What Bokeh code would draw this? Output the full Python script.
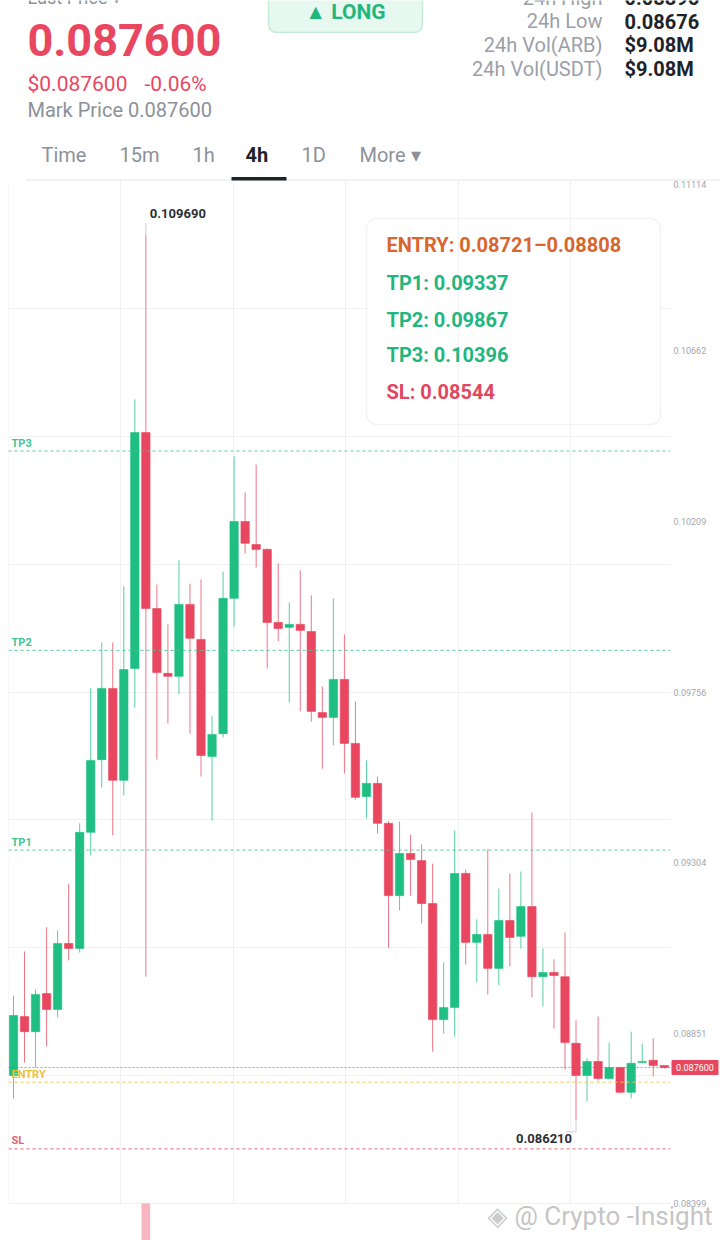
import numpy as np
from bokeh.plotting import figure
from bokeh.models import (Range1d, FixedTicker, NumeralTickFormatter, Span,
                          BoxAnnotation, ColumnDataSource)
from bokeh.embed import file_html
from bokeh.resources import INLINE
from bokeh.core.properties import value

# ---------------- data ----------------
opens = [0.08739, 0.08895, 0.08855, 0.08956, 0.08914, 0.09089, 0.09076, 0.09384, 0.09577, 0.09766,
         0.09522, 0.09819, 0.10445, 0.09978, 0.09806, 0.09798, 0.09989, 0.09896, 0.09585, 0.09646,
         0.10005, 0.10209, 0.10148, 0.10135, 0.09941, 0.09928, 0.09936, 0.09917, 0.09702, 0.09689,
         0.09790, 0.09620, 0.09479, 0.09514, 0.09408, 0.09216, 0.09328, 0.09309, 0.09195, 0.08887,
         0.08919, 0.09275, 0.09092, 0.09113, 0.09023, 0.09150, 0.09108, 0.09187, 0.09001, 0.09012,
         0.09001, 0.08824, 0.08739, 0.08776, 0.08731, 0.08760, 0.08694, 0.08773, 0.08779, 0.08765]
highs = [0.08951, 0.09068, 0.08967, 0.09132, 0.09124, 0.09248, 0.09408, 0.09766, 0.09888, 0.09888,
         0.10037, 0.10533, 0.10969, 0.10042, 0.09936, 0.10106, 0.10044, 0.10055, 0.09692, 0.10076,
         0.10382, 0.10286, 0.10360, 0.10137, 0.10098, 0.09994, 0.10079, 0.10013, 0.09771, 0.10005,
         0.09909, 0.09731, 0.09575, 0.09532, 0.09413, 0.09413, 0.09378, 0.09352, 0.09301, 0.09039,
         0.09389, 0.09285, 0.09153, 0.09339, 0.09235, 0.09275, 0.09280, 0.09437, 0.09076, 0.09047,
         0.09118, 0.08885, 0.08784, 0.08895, 0.08826, 0.08762, 0.08855, 0.08824, 0.08837, 0.08766]
lows = [0.08678, 0.08773, 0.08760, 0.08816, 0.08893, 0.09044, 0.09065, 0.09323, 0.09503, 0.09376,
        0.09482, 0.09715, 0.09001, 0.09577, 0.09673, 0.09750, 0.09646, 0.09532, 0.09415, 0.09636,
        0.09930, 0.10124, 0.10087, 0.09819, 0.09891, 0.09729, 0.09705, 0.09678, 0.09553, 0.09615,
        0.09540, 0.09471, 0.09421, 0.09381, 0.09078, 0.09177, 0.09216, 0.09142, 0.08802, 0.08850,
        0.08842, 0.09033, 0.08986, 0.08954, 0.08978, 0.09028, 0.09076, 0.08946, 0.08922, 0.08863,
        0.08755, 0.08621, 0.08670, 0.08725, 0.08728, 0.08691, 0.08678, 0.08771, 0.08736, 0.08757]
closes = [0.08898, 0.08855, 0.08954, 0.08914, 0.09089, 0.09076, 0.09384, 0.09575, 0.09766, 0.09522,
          0.09816, 0.10445, 0.09978, 0.09808, 0.09798, 0.09989, 0.09899, 0.09588, 0.09644, 0.10005,
          0.10209, 0.10151, 0.10135, 0.09941, 0.09925, 0.09936, 0.09920, 0.09705, 0.09689, 0.09790,
          0.09620, 0.09477, 0.09514, 0.09408, 0.09216, 0.09328, 0.09312, 0.09195, 0.08887, 0.08919,
          0.09275, 0.09092, 0.09113, 0.09023, 0.09150, 0.09105, 0.09187, 0.09001, 0.09012, 0.09004,
          0.08826, 0.08739, 0.08776, 0.08731, 0.08760, 0.08694, 0.08771, 0.08776, 0.08765, 0.08760]
# volume (millions) - only the tallest bar peeks into view, the others are estimates
volumes = [2.4, 4.4, 2.0, 2.6, 2.2, 2.1, 3.0, 4.4, 3.6, 3.2, 3.1, 3.9, 6.2, 3.4, 1.6, 2.2, 1.9, 2.8,
           1.4, 2.9, 3.3, 1.5, 1.8, 2.3, 1.1, 1.2, 1.6, 2.1, 1.2, 1.9, 1.8, 1.5, 1.1, 1.2, 2.4, 1.5,
           1.0, 1.3, 2.9, 1.3, 3.0, 1.8, 1.0, 1.9, 1.4, 1.2, 1.3, 2.2, 0.9, 0.8, 1.8, 2.0, 1.1, 1.2,
           0.8, 0.9, 1.1, 0.5, 0.6, 0.3]

axis_ticks = [0.08399, 0.08851, 0.09304, 0.09756, 0.10209, 0.10662, 0.11114]
entry_lo, entry_hi = 0.08721, 0.08808
tp_levels = [0.09337, 0.09867, 0.10396]
tp_names = ["TP1", "TP2", "TP3"]
sl_level = 0.08544
last_price = 0.087600
change_pct = "-0.06%"
tabs = ["Time", "15m", "1h", "4h", "1D", "More ▾"]
stats_labels = ["24h High", "24h Low", "24h Vol(ARB)", "24h Vol(USDT)"]
stats_values = ["0.08896", "0.08676", "$9.08M", "$9.08M"]

# ---------------- styling / layout ----------------
FONT = "Roboto"
RED = "#e8475f"
GREEN = "#1fbf83"
GREY = "#8c9199"
DARK = "#1e2329"
TPC = "#46c592"
PAGE_W, PAGE_H = 720, 1240
HDR_H = 180
MAIN_H = PAGE_H - HDR_H

# pixel geometry of the price frame (page pixels)
FRAME_L, FRAME_R = 8, 670
PX_TOP, PX_BOT = 180, 1203
Y_TOP, Y_BOT = axis_ticks[-1], axis_ticks[0]
SCALE = (PX_BOT - PX_TOP) / (Y_TOP - Y_BOT)
STEP, FIRST = 11.03, 13


def X(px):
    return (px - FIRST) / STEP


def Y(py):
    return Y_TOP - (py - PX_TOP) / SCALE


def PY(price):
    return PX_TOP + (Y_TOP - price) * SCALE


# ---------------- main chart ----------------
p = figure(width=PAGE_W, height=MAIN_H, x_range=Range1d(X(FRAME_L), X(FRAME_R)),
           y_range=Range1d(Y(PAGE_H), Y_TOP), x_axis_location=None,
           y_axis_location="right", toolbar_location=None, output_backend="svg",
           min_border_left=FRAME_L, min_border_right=PAGE_W - FRAME_R,
           min_border_top=0, min_border_bottom=0)
p.outline_line_color = None
p.background_fill_color = "white"
p.border_fill_color = "white"

ax = p.yaxis[0]
ax.ticker = FixedTicker(ticks=axis_ticks)
ax.formatter = NumeralTickFormatter(format="0.00000")
ax.major_label_text_font_size = "9px"
ax.major_label_text_color = "#a3a7ad"
ax.major_label_text_font = FONT
ax.axis_line_color = None
ax.major_tick_line_color = None
ax.minor_tick_line_color = None
ax.major_tick_out = 0
ax.major_label_standoff = 3

p.xgrid.visible = False
p.ygrid.ticker = FixedTicker(ticks=list(np.linspace(Y_BOT, Y_TOP, 9)))
p.ygrid.grid_line_color = "#f0f1f3"

vgrid_px = [8, 120, 233, 345, 458, 570]
p.segment(x0=[X(v) for v in vgrid_px], y0=[Y_BOT] * len(vgrid_px),
          x1=[X(v) for v in vgrid_px], y1=[Y_TOP] * len(vgrid_px),
          line_color="#f0f1f3", line_width=1)

idx = list(range(len(opens)))
colors = [GREEN if c >= o else RED for o, c in zip(opens, closes)]

# volume (separate scale, panel mostly below the visible page)
VOL_ZERO_PX = 1330
VPX = (VOL_ZERO_PX - PX_BOT) / max(volumes)
p.extra_y_ranges = {"vol": Range1d((VOL_ZERO_PX - PAGE_H) / VPX,
                                   (VOL_ZERO_PX - PX_TOP) / VPX)}
p.vbar(x=idx, width=0.78, top=volumes, bottom=0, y_range_name="vol",
       fill_color=colors, fill_alpha=0.4, line_color=None)

src = ColumnDataSource(dict(x=idx, o=opens, h=highs, l=lows, c=closes,
                            top=[max(o, c) for o, c in zip(opens, closes)],
                            bot=[min(o, c) for o, c in zip(opens, closes)],
                            color=colors))
p.segment(x0="x", y0="l", x1="x", y1="h", line_color="color", line_alpha=0.75,
          line_width=1, source=src)
p.vbar(x="x", width=0.76, top="top", bottom="bot", fill_color="color", line_color="color",
       line_width=0.6, source=src)

# level lines
for lvl in tp_levels:
    p.add_layout(Span(location=lvl, dimension="width", line_color=TPC, line_dash="3 3",
                      line_width=1, line_alpha=0.9))
p.add_layout(Span(location=entry_lo, dimension="width", line_color="#f1c84e", line_dash="3 3",
                  line_width=1))
p.add_layout(Span(location=sl_level, dimension="width", line_color="#e0667a", line_dash="3 3",
                  line_width=1))
p.add_layout(Span(location=last_price, dimension="width", line_color=RED, line_dash="2 2",
                  line_width=1, line_alpha=0.7))

lab_off = 8 / SCALE
p.text(x=[X(11)] * 3, y=[l + lab_off for l in tp_levels], text=tp_names,
       text_font=value(FONT), text_font_size="11px", text_font_style="bold",
       text_color=TPC, text_baseline="middle")
p.text(x=[X(11)], y=[entry_lo + lab_off], text=["ENTRY"], text_font=value(FONT),
       text_font_size="11px", text_font_style="bold", text_color="#eac13c",
       text_baseline="middle")
p.text(x=[X(11)], y=[sl_level + lab_off], text=["SL"], text_font=value(FONT),
       text_font_size="11px", text_font_style="bold", text_color="#e0667a",
       text_baseline="middle")

# high / low markers
ih = int(np.argmax(highs))
il = int(np.argmin(lows))
p.segment(x0=[ih], y0=[highs[ih]], x1=[ih], y1=[highs[ih] + 12 / SCALE],
          line_color="#c9cbcf", line_width=1)
p.text(x=[ih + 4 / STEP], y=[highs[ih] + 22 / SCALE], text=[f"{highs[ih]:.6f}"],
       text_font=value(FONT), text_font_size="13px", text_font_style="bold",
       text_color="#2b2f36", text_baseline="middle")
p.segment(x0=[il, il], y0=[lows[il], lows[il] - 12 / SCALE],
          x1=[il, il - 10 / STEP], y1=[lows[il] - 12 / SCALE, lows[il] - 12 / SCALE],
          line_color="#c9cbcf", line_width=1)
p.text(x=[il - 4 / STEP], y=[lows[il] - 19 / SCALE], text=[f"{lows[il]:.6f}"],
       text_font=value(FONT), text_font_size="13px", text_font_style="bold",
       text_color="#2b2f36", text_baseline="middle", text_align="right")

# info box
p.add_layout(BoxAnnotation(left=X(366), right=X(660), top=Y(218), bottom=Y(424),
                           fill_color="white", fill_alpha=1, line_color="#d6d8db",
                           line_width=1.5, border_radius=10, level="underlay"))
box_lines = [f"ENTRY: {entry_lo:.5f}–{entry_hi:.5f}"] + \
            [f"{n}: {v:.5f}" for n, v in zip(tp_names, tp_levels)] + [f"SL: {sl_level:.5f}"]
box_colors = ["#d9662c", "#22b67f", "#22b67f", "#22b67f", "#e0485f"]
box_py = [244, 282, 319, 354, 391]
p.text(x=[X(386)] * 5, y=[Y(v) for v in box_py], text=box_lines, text_color=box_colors,
       text_font=value(FONT), text_font_size="20px", text_font_style="bold",
       text_baseline="middle")

p.styles = {"position": "absolute", "left": "0px", "top": f"{HDR_H}px"}

# ---------------- overlay (header, price tag, watermark) in page pixels ----------------
ov = figure(width=PAGE_W, height=PAGE_H, x_range=Range1d(0, PAGE_W), y_range=Range1d(PAGE_H, 0),
            x_axis_location=None, y_axis_location=None, toolbar_location=None,
            output_backend="svg", min_border=0)
ov.grid.visible = False
ov.outline_line_color = None
ov.background_fill_color = None
ov.border_fill_color = None
ov.styles = {"position": "absolute", "left": "0px", "top": "0px"}


def otext(x, y, s, size, color, bold=False, align="left", baseline="middle", font=FONT,
          alpha=1.0):
    ov.text(x=[x], y=[y], text=[s], text_font=value(font), text_font_size=f"{size}px",
            text_color=color, text_font_style="bold" if bold else "normal",
            text_align=align, text_baseline=baseline, text_alpha=alpha)


otext(27, -3, "Last Price ▾", 18, GREY)
otext(27, 39, f"{last_price:.6f}", 45, RED, bold=True)
otext(27, 83, f"${last_price:.6f}", 21, RED)
otext(144, 83, change_pct, 21, RED)
otext(27, 109, f"Mark Price {last_price:.6f}", 20, GREY)

ov.add_layout(BoxAnnotation(left=268, right=422, top=-10, bottom=32, fill_color="#e7f8f0",
                            fill_alpha=1, line_color="#5cc99b", line_width=1.5,
                            border_radius=8, level="underlay"))
otext(345, 11.5, "▲ LONG", 21, "#1db77b", bold=True, align="center")

for i, (lab, val) in enumerate(zip(stats_labels, stats_values)):
    yc = -3 + 23.7 * i
    otext(602, yc, lab, 20, "#9ba0a8", align="right")
    otext(624, yc, val, 20, DARK, bold=True)

tab_x = [41, 119, 192, 245, 301, 359]
for tx, t in zip(tab_x, tabs):
    active = (t == "4h")
    otext(tx, 154, t, 20, DARK if active else GREY, bold=active)
ov.segment(x0=[25], y0=[179.5], x1=[PAGE_W], y1=[179.5], line_color="#e4e6ea", line_width=1)
ov.add_layout(BoxAnnotation(left=231, right=286, top=176.5, bottom=180, fill_color=DARK,
                            fill_alpha=1, line_color=None))

# last price tag on the price axis
tag_y = PY(last_price)
ov.add_layout(BoxAnnotation(left=671, right=718, top=tag_y - 7.5, bottom=tag_y + 7.5,
                            fill_color=RED, fill_alpha=1, line_color=None, border_radius=1,
                            level="underlay"))
otext(694.5, tag_y, f"{last_price:.6f}", 9, "white", align="center")

# watermark
otext(497, 1215, "◈", 26, "#c4c4c4", align="center", font="DejaVu Sans", alpha=0.9)
otext(514, 1215, "@ Crypto -Insight", 26, "#bdbdbd", alpha=0.9)

open("out.html", "w").write(file_html([p, ov], INLINE))
